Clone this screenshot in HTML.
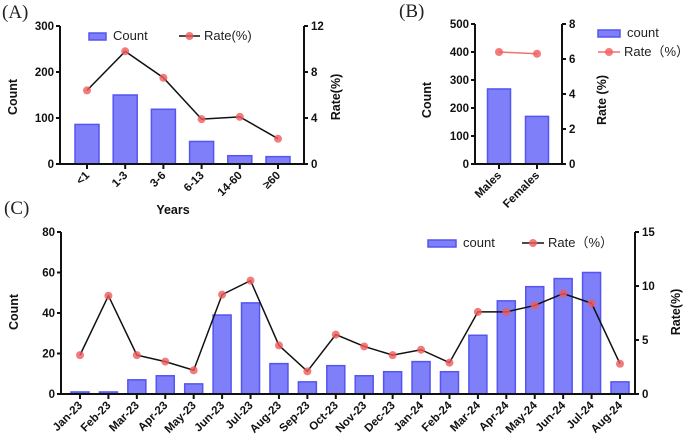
<!DOCTYPE html>
<html><head><meta charset="utf-8"><style>
body{margin:0;background:#fff}
svg{display:block;font-family:"Liberation Sans",Arial,sans-serif}
.t{font-size:11.5px;font-weight:bold;fill:#111}
.lab{font-size:12.5px;font-weight:bold;fill:#111}
.leg{font-size:13px;fill:#222}
.pn{font-family:"Liberation Serif",serif;font-size:19px;fill:#222}
</style></head><body>
<svg id="s" width="685" height="442"></svg>
<script>
const catsA=["<1","1-3","3-6","6-13","14-60","≥60"];
const countA=[86,150,119,49,18,16];
const rateA=[6.4,9.8,7.5,3.9,4.1,2.2];
const ticksA=[0,100,200,300];
const ticksAR=[0,4,8,12];
const catsB=["Males","Females"];
const countB=[268,170];
const rateB=[6.4,6.3];
const ticksB=[0,100,200,300,400,500];
const ticksBR=[0,2,4,6,8];
const catsC=["Jan-23","Feb-23","Mar-23","Apr-23","May-23","Jun-23","Jul-23","Aug-23","Sep-23","Oct-23","Nov-23","Dec-23","Jan-24","Feb-24","Mar-24","Apr-24","May-24","Jun-24","Jul-24","Aug-24"];
const countC=[1,1,7,9,5,39,45,15,6,14,9,11,16,11,29,46,53,57,60,6];
const rateC=[3.6,9.1,3.6,3.0,2.2,9.2,10.5,4.5,2.1,5.5,4.4,3.6,4.1,2.9,7.6,7.6,8.2,9.3,8.4,2.8];
const ticksC=[0,20,40,60,80];
const ticksCR=[0,5,10,15];

const NS="http://www.w3.org/2000/svg";
const svg=document.getElementById('s');
function mk(tag,at,parent,txt){const e=document.createElementNS(NS,tag);for(const k in at)e.setAttribute(k,at[k]);if(txt!==undefined)e.textContent=txt;(parent||svg).appendChild(e);return e;}

function panel(o){
  const g=mk('g',{});
  
  
  const yL=v=>o.y0-(v/o.maxL)*(o.y0-o.y1);
  const yR=v=>o.y0-(v/o.maxR)*(o.y0-o.y1);
  const xC=i=>o.c0+i*(o.c1-o.c0)/Math.max(1,o.cats.length-1);
  o.counts.forEach((v,i)=>{
    const r=mk('rect',{x:xC(i)-o.bw/2,y:yL(v),width:o.bw,height:o.y0-yL(v),fill:'#7f7ffa',stroke:'#5555f0','stroke-width':1.5},g);
    
    
  });
  const ax=mk('path',{d:`M${o.xl},${o.y1}V${o.y0}H${o.xr}`,stroke:'#111','stroke-width':2,fill:'none'},g);
  
  
  const ar=mk('path',{d:`M${o.xr},${o.y1}V${o.y0}`,stroke:'#111','stroke-width':2,fill:'none'},g);
  
  
  o.ticksL.forEach(v=>{
    mk('line',{x1:o.xl-4,x2:o.xl,y1:yL(v),y2:yL(v),stroke:'#111','stroke-width':2},g);
    const t=mk('text',{x:o.xl-6,y:yL(v)+4,'text-anchor':'end',class:'t'},g,v);
    
    
  });
  o.ticksR.forEach(v=>{
    mk('line',{x1:o.xr,x2:o.xr+4,y1:yR(v),y2:yR(v),stroke:'#111','stroke-width':2},g);
    const t=mk('text',{x:o.xr+7,y:yR(v)+4,class:'t'},g,v);
    
    
  });
  o.cats.forEach((c,i)=>{
    mk('line',{x1:xC(i),x2:xC(i),y1:o.y0,y2:o.y0+5,stroke:'#111','stroke-width':2},g);
    const t=mk('text',{x:xC(i)+3,y:o.y0+12,'text-anchor':'end',class:'t',transform:`rotate(-45 ${xC(i)+3} ${o.y0+12})`},g,c);
    
    
  });
  const pts=o.rates.map((v,i)=>xC(i)+','+yR(v)).join(' ');
  const pl=mk('polyline',{points:pts,fill:'none',stroke:o.lc,'stroke-width':1.5},g);
  
  
  o.rates.forEach((v,i)=>{
    const c=mk('circle',{cx:xC(i),cy:yR(v),r:4,fill:'#f05a5a','fill-opacity':0.8},g);
    
    
  });
  const yl=mk('text',{x:o.ylx,y:o.yly,'text-anchor':'middle',class:'lab',transform:`rotate(-90 ${o.ylx} ${o.yly})`},g,'Count');
  
  
  const yr=mk('text',{x:o.yrx,y:o.yly,'text-anchor':'middle',class:'lab',transform:`rotate(-90 ${o.yrx} ${o.yly})`},g,o.rTitle);
  
  
  const lg=mk('g',{},g);
  
  
  const L=o.leg;
  mk('rect',{x:L.rx,y:L.ry-3,width:L.rw,height:7,fill:'#7f7ffa',stroke:'#5555f0','stroke-width':1.5},lg);
  mk('text',{x:L.rx+L.rw+7,y:L.ry+4,class:'leg'},lg,L.ct);
  mk('line',{x1:L.lx,x2:L.lx+L.lw,y1:L.ly,y2:L.ly,stroke:o.lc,'stroke-width':1.5},lg);
  mk('circle',{cx:L.lx+L.lw/2,cy:L.ly,r:4,fill:'#f05a5a','fill-opacity':0.8},lg);
  mk('text',{x:L.lx+L.lw+4,y:L.ly+4,class:'leg'},lg,L.rt);
}

panel({name:'chart-a',cats:catsA,counts:countA,rates:rateA,ticksL:ticksA,ticksR:ticksAR,maxL:300,maxR:12,
  xl:60,xr:304,y0:164,y1:26,c0:87,c1:278,bw:24,lc:'#111',ylx:17,yrx:340,yly:97,rTitle:'Rate(%)',
  leg:{rx:89,ry:36,rw:17,ct:'Count',lx:179,lw:21,ly:36,rt:'Rate(%)'}});
panel({name:'chart-b',cats:catsB,counts:countB,rates:rateB,ticksL:ticksB,ticksR:ticksBR,maxL:500,maxR:8,
  xl:475,xr:562,y0:164,y1:24,c0:499,c1:537,bw:23,lc:'#f07070',ylx:431,yrx:606,yly:100,rTitle:'Rate (%)',
  leg:{rx:598,ry:33,rw:22,ct:'count',lx:598,lw:22,ly:52,rt:'Rate（%）'}});
panel({name:'chart-c',cats:catsC,counts:countC,rates:rateC,ticksL:ticksC,ticksR:ticksCR,maxL:80,maxR:15,
  xl:61,xr:635,y0:394,y1:232,c0:80,c1:620,bw:18,lc:'#111',ylx:18,yrx:680,yly:312,rTitle:'Rate(%)',
  leg:{rx:428,ry:243,rw:28,ct:'count',lx:522,lw:22,ly:243,rt:'Rate（%）'}});

const yx=mk('text',{x:173,y:214,'text-anchor':'middle',class:'lab'},svg,'Years');


[['(A)',2,18],['(B)',399,17],['(C)',4,214]].forEach(([s,x,y])=>{
  const t=mk('text',{x:x,y:y,class:'pn'},svg,s);
  
  
});
</script>
</body></html>
